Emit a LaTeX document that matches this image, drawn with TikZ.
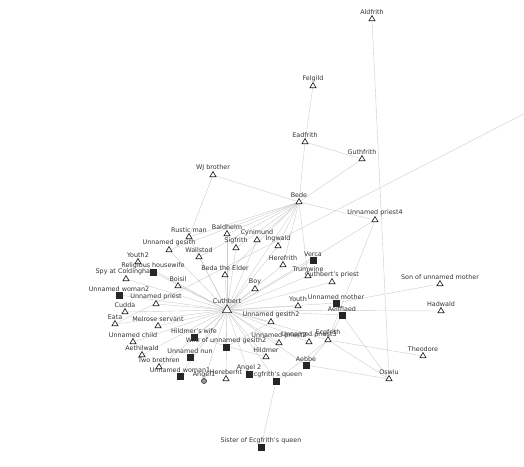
\documentclass[tikz,border=0pt]{standalone}
\usepackage{fontspec}
\setmainfont{DejaVu Sans}
\usetikzlibrary{shapes.geometric,backgrounds}

\begin{document}
\begin{tikzpicture}
[x=1pt,y=-1pt,label distance=0pt]

    \tikzstyle{tri}=[draw=black!85,regular polygon,regular polygon sides=3,
                     fill=white,minimum size=7pt,inner sep=0pt,line width=0.65pt]
    \tikzstyle{sq}=[draw=black!85,rectangle,fill=black!85,minimum size=5.5pt,
                    inner sep=0pt]
    \tikzstyle{dot}=[draw=black!75,circle,fill=black!40,minimum size=5pt,
                     inner sep=0pt,line width=0.7pt]
    \tikzstyle{lbl}=[font=\fontsize{6.4}{7}\selectfont,text=black!80,inner sep=0pt]
    \tikzstyle{edge}=[draw=black!20,line width=0.4pt]

    \useasboundingbox (0,0) rectangle (524,466);

    % the people, top to bottom
    \node (aldf) at (372,19)  [tri,label={[lbl]above:Aldfrith}] {};
    \node (felg) at (313,86)  [tri,label={[lbl]above:Felgild}] {};
    \node (eadf) at (305,142) [tri,label={[lbl]above:Eadfrith}] {};
    \node (guth) at (362,159) [tri,label={[lbl]above:Guthfrith}] {};
    \node (wjbr) at (213,175) [tri,label={[lbl]above:WJ brother}] {};
    \node (bede) at (299,202) [tri,label={[lbl]above:Bede}] {};
    \node (upr4) at (375,220) [tri,label={[lbl]above:Unnamed priest4}] {};
    \node (rust) at (189,237) [tri,label={[lbl]above:Rustic man}] {};
    \node (bald) at (227,234) [tri,label={[lbl]above:Baldhelm}] {};
    \node (cyni) at (257,240) [tri,label={[lbl]above:Cynimund}] {};
    \node (sigf) at (236,248) [tri,label={[lbl]above:Sigfrith}] {};
    \node (ingw) at (278,246) [tri,label={[lbl]above:Ingwald}] {};
    \node (uges) at (169,250) [tri,label={[lbl]above:Unnamed gesith}] {};
    \node (wall) at (199,257) [tri,label={[lbl]above:Wallstod}] {};
    \node (yth2) at (138,262) [tri,label={[lbl]above:Youth2}] {};
    \node (verc) at (313,260) [sq,label={[lbl]above:Verca}] {};
    \node (here) at (283,265) [tri,label={[lbl]above:Herefrith}] {};
    \node (spy)  at (126,279) [tri,label={[lbl]above:Spy at Coldingham}] {};
    \node (rhou) at (153,272) [sq,label={[lbl]above:Religious housewife}] {};
    \node (beda) at (225,275) [tri,label={[lbl]above:Beda the Elder}] {};
    \node (cpri) at (332,282) [tri,label={[lbl]above:Cuthbert's priest}] {};
    \node (trum) at (308,276) [tri,label={[lbl]above:Trumwine}] {};
    \node (bois) at (178,286) [tri,label={[lbl]above:Boisil}] {};
    \node (boy)  at (255,289) [tri,label={[lbl]above:Boy}] {};
    \node (sonm) at (440,284) [tri,label={[lbl]above:Son of unnamed mother}] {};
    \node (uwo2) at (119,295) [sq,label={[lbl]above:Unnamed woman2}] {};
    \node (upri) at (156,304) [tri,label={[lbl]above:Unnamed priest}] {};
    \node (cuth) at (227,310) [tri,minimum size=10.5pt,label={[lbl]above:Cuthbert}] {};
    \node (yth)  at (298,306) [tri,label={[lbl]above:Youth}] {};
    \node (umot) at (336,303) [sq,label={[lbl]above:Unnamed mother}] {};
    \node (hadw) at (441,311) [tri,label={[lbl]above:Hadwald}] {};
    \node (aelf) at (342,315) [sq,label={[lbl]above:Aelfflaed}] {};
    \node (cudd) at (125,312) [tri,label={[lbl]above:Cudda}] {};
    \node (eata) at (115,324) [tri,label={[lbl]above:Eata}] {};
    \node (uge2) at (271,322) [tri,label={[lbl]above:Unnamed gesith2}] {};
    \node (mels) at (158,326) [tri,label={[lbl]above:Melrose servant}] {};
    \node (hwif) at (194,337) [sq,label={[lbl]above:Hildmer's wife}] {};
    \node (uchi) at (133,342) [tri,label={[lbl]above:Unnamed child}] {};
    \node (upr2) at (279,343) [tri,label={[lbl]above:Unnamed priest2}] {};
    \node (upr3) at (309,342) [tri,label={[lbl]above:Unnamed priest3}] {};
    \node (ecgf) at (328,340) [tri,label={[lbl]above:Ecgfrith}] {};
    \node (wge2) at (226,347) [sq,label={[lbl]above:Wife of unnamed gesith2}] {};
    \node (aeth) at (142,355) [tri,label={[lbl]above:Aethilwald}] {};
    \node (unun) at (190,357) [sq,label={[lbl]above:Unnamed nun}] {};
    \node (hild) at (266,357) [tri,label={[lbl]above:Hildmer}] {};
    \node (theo) at (423,356) [tri,label={[lbl]above:Theodore}] {};
    \node (twob) at (159,367) [tri,label={[lbl]above:Two brethren}] {};
    \node (aebb) at (306,365) [sq,label={[lbl]above:Aebbe}] {};
    \node (uwo1) at (180,376) [sq,label={[lbl]above:Unnamed woman1}] {};
    \node (ang1) at (204,381) [dot,label={[lbl]above:Angel1}] {};
    \node (hrbt) at (226,379) [tri,label={[lbl]above:Hereberht}] {};
    \node (ang2) at (249,374) [sq,label={[lbl]above:Angel 2}] {};
    \node (eque) at (276,381) [sq,label={[lbl]above:Ecgfrith's queen}] {};
    \node (oswi) at (389,379) [tri,label={[lbl]above:Oswiu}] {};
    \node (sist) at (261,447) [sq,label={[lbl]above:Sister of Ecgfrith's queen}] {};

    % the one beyond the frame
    \coordinate (away) at (545,103);

    \begin{scope}[on background layer]
    \foreach \n in {bede,upr4,rust,bald,cyni,sigf,ingw,uges,wall,yth2,verc,here,
                    spy,rhou,beda,cpri,trum,bois,boy,uwo2,upri,yth,umot,hadw,
                    aelf,cudd,eata,uge2,mels,hwif,uchi,upr2,upr3,ecgf,wge2,aeth,
                    unun,hild,twob,aebb,uwo1,ang1,hrbt,ang2,eque}
        \draw[edge] (cuth) -- (\n);
    \foreach \n in {eadf,guth,wjbr,upr4,rust,bald,cyni,sigf,ingw,uges,wall,
                    here,beda,trum}
        \draw[edge] (bede) -- (\n);
    \draw[edge] (felg) -- (eadf) -- (guth);
    \draw[edge] (wjbr) -- (rust);
    \draw[edge] (aldf) -- (oswi);
    \draw[edge] (upr4) -- (ecgf);
    \draw[edge] (umot) -- (sonm);
    \draw[edge] (aelf) -- (ecgf) -- (oswi);
    \draw[edge] (aelf) -- (oswi);
    \draw[edge] (ecgf) -- (aebb) -- (oswi);
    \draw[edge] (ecgf) -- (theo);
    \draw[edge] (ecgf) -- (eque) -- (sist);
    \draw[edge] (hild) -- (hwif);
    \draw[edge] (uge2) -- (wge2);
    \draw[edge] (eata) -- (away);
    \end{scope}

\end{tikzpicture}
\end{document}
